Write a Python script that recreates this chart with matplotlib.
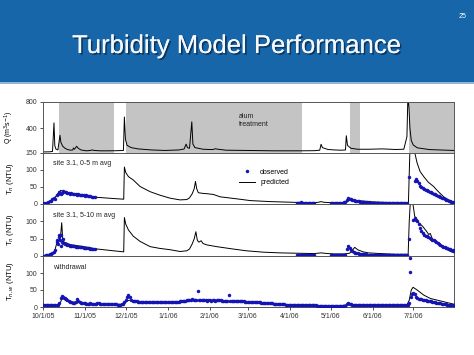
import matplotlib
matplotlib.use("Agg")
import matplotlib.pyplot as plt
import matplotlib.patheffects as pe
import numpy as np

plt.rcParams['font.family'] = ['Liberation Sans', 'DejaVu Sans']

# ---------------- data (x = days since 10/1/05) ----------------
tick_days = [0, 31, 61, 92, 123, 151, 182, 212, 243, 273]
tick_labels = ["10/1/05", "11/1/05", "12/1/05", "1/1/06", "2/1/06", "3/1/06",
               "4/1/06", "5/1/06", "6/1/06", "7/1/06"]

# alum treatment periods (shaded)
alum_start = [12, 61, 226, 270]
alum_end = [52.5, 191, 234, 303]

# flow Q (m3/s)
q_days = [0, 5, 7, 8.1, 8.7, 9.5, 11, 12.5, 13.2, 14.5, 16, 18, 20, 22, 22.4, 23.2, 24.8, 26,
          28, 32, 35, 36, 38, 42, 48, 55, 59.3, 60, 60.8, 62, 65, 70, 80, 90, 100, 104, 105.5,
          106.5, 108, 109.7, 110.5, 112, 118, 125, 127, 129, 135, 150, 170, 190, 200, 204,
          205, 206, 210, 215, 220, 223, 223.6, 224.5, 227, 232, 240, 250, 260, 266, 268.3,
          269, 269.8, 270.5, 271.5, 273, 276, 285, 303]
q_vals = [156, 157, 160, 470, 210, 180, 172, 315, 240, 205, 188, 176, 170, 172, 189, 178, 204, 186,
          172, 165, 168, 172, 168, 165, 165, 166, 168, 554, 270, 212, 192, 181, 172, 168, 172, 180, 224,
          192, 186, 484, 225, 192, 178, 175, 182, 178, 170, 168, 165, 165, 166, 170,
          222, 192, 176, 172, 170, 172, 310, 212, 186, 178, 178, 181, 176, 178, 300,
          900, 700, 400, 260, 215, 190, 175, 168]

# site 3.1, 0-5 m avg: observed
obs_a_days = (list(range(0, 39)) + list(range(187, 201)) + list(range(212, 269)) + [269.6]
              + list(range(274, 304)))
obs_a_vals = ([1, 2, 2, 4, 5, 8, 10, 14, 18, 15, 25, 30, 36, 28, 33, 38, 36, 35, 33, 32,
               30, 31, 29, 28, 30, 27, 28, 26, 27, 25, 26, 24, 25, 23, 22, 23, 21, 20, 20]
              + [4, 4, 4, 5, 4, 4, 3, 4, 4, 3, 4, 4, 3, 3]
              + [3, 3, 4, 4, 4, 3, 4, 4, 4, 4, 5, 5, 12, 18, 15, 14, 12, 11, 10, 9, 9, 8, 7, 7,
                 6, 6, 5, 5, 5, 4, 4, 4, 4, 4, 3, 4, 3, 3, 3, 3, 3, 3, 3, 3, 3, 3, 3, 3, 3, 3,
                 3, 3, 3, 3, 3, 3, 3]
              + [78]
              + [68, 72, 66, 60, 54, 50, 47, 45, 42, 40, 38, 36, 34, 32, 30, 28, 26, 24, 22, 20,
                 18, 17, 15, 13, 11, 9, 8, 6, 5, 4])
# site 3.1, 0-5 m avg: predicted
pred_a_days = [0, 3, 6, 8, 10, 12, 13, 14, 16, 20, 25, 30, 35, 38, 45, 52, 59.5, 60, 61, 63,
               66.6, 71.6, 79, 86, 93.7, 101, 106, 108, 110, 111.5, 112.4, 113.3, 114.5, 118,
               121, 125.5, 130.6, 143, 152.8, 167.5, 184.5, 195, 200, 203, 205, 207, 212, 220,
               224, 226, 228, 230, 235, 240, 250, 260, 268, 269.4, 270.8, 272, 273.5, 275.8,
               278, 280.7, 284, 288, 291, 295.4, 299, 303]
pred_a_vals = [1, 3, 8, 15, 25, 34, 40, 38, 36, 31, 28, 25, 22, 20, 18, 16, 14, 108, 92, 80,
               70, 51, 36, 26, 17, 12, 13, 18, 30, 45, 66, 45, 33, 31,
               30, 28, 21, 15, 10, 7, 5, 4, 4, 5, 7, 5, 4, 4,
               6, 12, 13, 11, 9, 7, 5, 4, 3, 4, 200, 190, 160, 120,
               95, 80, 64, 51, 38, 21, 12, 6]

# site 3.1, 5-10 m avg: observed
obs_b_days = (list(range(0, 10)) + [10, 10.5, 11, 11.5, 12, 12.5, 13, 13.5, 14, 14.5]
              + list(range(15, 39)) + list(range(187, 201)) + list(range(212, 269)) + [269.6]
              + list(range(273, 304)))
obs_b_vals = ([0, 1, 2, 3, 4, 5, 6, 8, 12, 18]
              + [40, 47, 35, 62, 55, 45, 30, 60, 40, 50]
              + [38, 36, 35, 33, 32, 30, 30, 28, 28, 27, 27, 26, 26, 25, 25, 24, 24, 23, 22, 22,
                 21, 20, 20, 19]
              + [3, 3, 3, 4, 3, 3, 3, 3, 4, 3, 3, 3, 3, 3]
              + [3, 3, 3, 3, 3, 3, 3, 4, 3, 3, 3, 4, 20, 30, 22, 18, 15, 12, 10, 9, 8, 7, 7, 6,
                 5, 5, 5, 4, 4, 4, 4, 3, 3, 3, 3, 3, 3, 3, 3, 3, 3, 3, 3, 3, 3, 3, 3, 3, 3, 3,
                 3, 3, 3, 3, 3, 3, 3]
              + [50]
              + [105, 109, 105, 100, 92, 82, 72, 66, 62, 59, 57, 54, 51, 49, 47, 45, 42, 40, 37,
                 35, 32, 30, 27, 26, 24, 22, 20, 19, 17, 16, 15])
# site 3.1, 5-10 m avg: predicted
pred_b_days = [0, 3, 6, 8, 9, 10, 11, 12, 13, 13.8, 14.5, 15.5, 17, 20, 25, 30, 35, 38, 45, 52,
               59.5, 60, 61, 63, 66.6, 71.6, 79, 86, 94, 101, 106, 108, 110, 111.5, 112.7,
               113.8, 115, 116.6, 118, 120.8, 128, 140.4, 150, 162.6, 175, 187, 200, 205, 210,
               215, 222, 226, 228, 229.8, 232, 236, 240, 248.7, 260, 268.4, 269.2, 270, 271,
               272, 274, 277, 280, 283, 284.4, 285.5, 287, 290, 292, 296, 300, 303]
pred_b_vals = [1, 3, 6, 10, 20, 35, 42, 45, 60, 96, 50, 40, 38, 33, 30, 27, 24, 21, 18, 15,
               12, 111, 92, 75, 57, 42, 27, 22, 18, 13, 15, 20, 35, 50, 70,
               45, 40, 44, 36, 32, 27, 20, 15, 11, 9, 8, 7, 9, 7,
               6, 6, 8, 16, 25, 18, 12, 9, 7, 5, 5, 5, 100, 170,
               170, 115, 96, 85, 70, 62, 65, 50, 40, 33, 22, 14, 9]

# withdrawal: observed
obs_w_days = list(range(0, 271)) + [270.8, 270.8] + list(range(271, 304))
obs_w_vals = ([5, 5, 5, 5, 5, 5, 5, 5, 5, 6, 6, 7, 12, 26, 32, 30, 27, 24, 20, 18,
               16, 14, 13, 13, 16, 25, 19, 14, 12, 11, 11, 11, 10, 10, 10, 11, 10, 10, 10, 10,
               11, 11, 10, 10, 9, 9, 10, 9, 9, 9, 8, 8, 8, 8, 8, 7, 7, 7, 8, 9,
               14, 20, 30, 35, 28, 20, 19, 18, 17, 17, 16, 16, 16, 15, 15, 15, 15, 15, 15, 15,
               15, 15, 14, 14, 14, 14, 14, 14, 14, 14, 14, 14, 14, 14, 15, 15, 15, 15, 16, 16,
               16, 17, 17, 18, 18, 19, 20, 21, 22, 22, 23, 21, 20, 21, 48, 22, 21, 20, 20, 20,
               20, 19, 20, 20, 19, 20, 20, 19, 20, 20, 21, 20, 19, 19, 19, 18, 18, 35, 19, 19,
               18, 18, 18, 17, 17, 17, 17, 17, 17, 16, 16, 16, 16, 15, 15, 15, 15, 14, 14, 14,
               14, 13, 13, 13, 12, 12, 12, 11, 11, 11, 10, 10, 10, 9, 9, 9, 8, 8, 8, 7,
               7, 7, 7, 6, 6, 6, 6, 6, 6, 5, 5, 5, 5, 5, 5, 5, 5, 5, 5, 5,
               5, 5, 4, 4, 4, 4, 4, 4, 4, 4, 4, 4, 4, 4, 4, 4, 4, 4, 4, 4,
               4, 4, 4, 4, 8, 11, 10, 8, 7, 6, 5, 5, 5, 5, 5, 5, 5, 5, 5, 5,
               5, 5, 5, 5, 5, 5, 5, 5, 5, 5, 5, 5, 5, 5, 5, 5, 5, 5, 5, 5,
               5, 5, 5, 5, 5, 5, 5, 5, 5, 6, 12]
              + [143, 102]
              + [30, 38, 42, 38, 30, 27, 25, 24, 23, 22, 21, 20, 19, 18, 18, 17, 16, 15, 14, 13,
                 12, 12, 11, 10, 10, 9, 8, 7, 6, 6, 5, 5, 5])
# withdrawal: predicted
pred_w_days = [0, 10, 12, 13, 14, 15, 17, 20, 25, 27, 30, 40, 50, 58, 60, 62, 64, 66, 80, 100,
               106, 110, 115, 120, 137, 145, 160, 175, 190, 220, 226, 232, 268, 270, 271.5,
               272.8, 275.8, 280.7, 285.6, 295, 303]
pred_w_vals = [4, 5, 8, 15, 25, 24, 18, 14, 15, 13, 11, 10, 8, 8, 10, 18, 20, 17, 14, 13,
               15, 20, 19, 18, 17, 15, 12, 8, 5, 4, 8, 5, 4, 20, 50,
               58, 50, 35, 25, 16, 8]

# ---------------- figure ----------------
fig = plt.figure(figsize=(4.74, 3.55), dpi=100)

header_color = '#1766a9'
fig.patches.append(plt.Rectangle((0, 1 - 82 / 355), 1, 82 / 355, transform=fig.transFigure,
                                 facecolor=header_color, edgecolor='none', zorder=0))
fig.patches.append(plt.Rectangle((0, 1 - 84 / 355), 1, 2 / 355, transform=fig.transFigure,
                                 facecolor='#8fb6d6', edgecolor='none', zorder=0))
fig.text(0.5, 1 - 46 / 355, "Turbidity Model Performance", color='#f4f8fc', fontsize=18.5,
         ha='center', va='center',
         path_effects=[pe.withSimplePatchShadow(offset=(1.2, -1.2), shadow_rgbFace='#0a2a4a',
                                                alpha=0.8), pe.Normal()])
fig.text(463 / 474, 1 - 17 / 355, "25", color='white', fontsize=5, ha='center', va='center')

left = 43 / 474
width = 411 / 474
rows = [(102, 152.7), (152.7, 204), (204, 256), (256, 307)]
axes = []
for top, bot in rows:
    ax = fig.add_axes([left, 1 - bot / 355, width, (bot - top) / 355])
    axes.append(ax)

blue = '#1414b4'
spine_col = '#555555'
for ax in axes:
    ax.set_xlim(0, 303)
    ax.set_xticks(tick_days)
    ax.tick_params(axis='both', direction='out', length=2.5, width=0.6, colors='#333333',
                   labelsize=5, pad=1.5)
    for s in ax.spines.values():
        s.set_color(spine_col)
        s.set_linewidth(0.7)
    ax.set_xticklabels([])

# panel 1: flow
ax = axes[0]
ax.set_yscale('function', functions=(lambda v: np.sqrt(np.clip(v, 0, None)), lambda v: v ** 2))
for s0, s1 in zip(alum_start, alum_end):
    ax.axvspan(s0, s1, color='#c4c4c4', lw=0, zorder=0)
ax.plot(q_days, q_vals, color='black', lw=0.7, zorder=2)
ax.set_ylim(150, 800)
ax.set_yticks([150, 400, 800])
ax.set_yticklabels(["150", "400", "800"])
ax.set_ylabel("Q (m$^3$s$^{-1}$)", fontsize=5)
ax.text((239 - 43) / 411, (152.7 - 120.5) / 50.7, "alum\ntreatment", transform=ax.transAxes,
        fontsize=5, ha='left', va='center', linespacing=1.0, color='#222222')

series = [(obs_a_days, obs_a_vals, pred_a_days, pred_a_vals, "site 3.1, 0-5 m avg", "T$_n$ (NTU)"),
          (obs_b_days, obs_b_vals, pred_b_days, pred_b_vals, "site 3.1, 5-10 m avg", "T$_n$ (NTU)"),
          (obs_w_days, obs_w_vals, pred_w_days, pred_w_vals, "withdrawal", "T$_{n,w}$ (NTU)")]
for ax, (od, ov, pd_, pv, lab, ylab) in zip(axes[1:], series):
    ax.plot(pd_, pv, color='black', lw=0.7, zorder=2, label='predicted')
    ax.plot(od, ov, 'o', color=blue, ms=2.5, mew=0, zorder=3, label='observed')
    ax.set_ylim(0, 150)
    ax.set_yticks([0, 50, 100])
    ax.set_ylabel(ylab, fontsize=5.5)
    ax.text((53 - 43) / 411, 0.78, lab, transform=ax.transAxes, fontsize=5, ha='left',
            va='center', color='#222222')

for ax in axes:
    ax.yaxis.set_label_coords(-0.066, 0.5)

h, l = axes[1].get_legend_handles_labels()
leg = axes[1].legend([h[1], h[0]], [l[1], l[0]], loc='center left',
                     bbox_to_anchor=((233 - 43) / 411, 0.52), frameon=False, fontsize=5,
                     handlelength=2.2, handletextpad=0.8, labelspacing=0.5, markerscale=1.0)

axes[3].set_xticklabels(tick_labels)

fig.savefig("out.png", dpi=100)
